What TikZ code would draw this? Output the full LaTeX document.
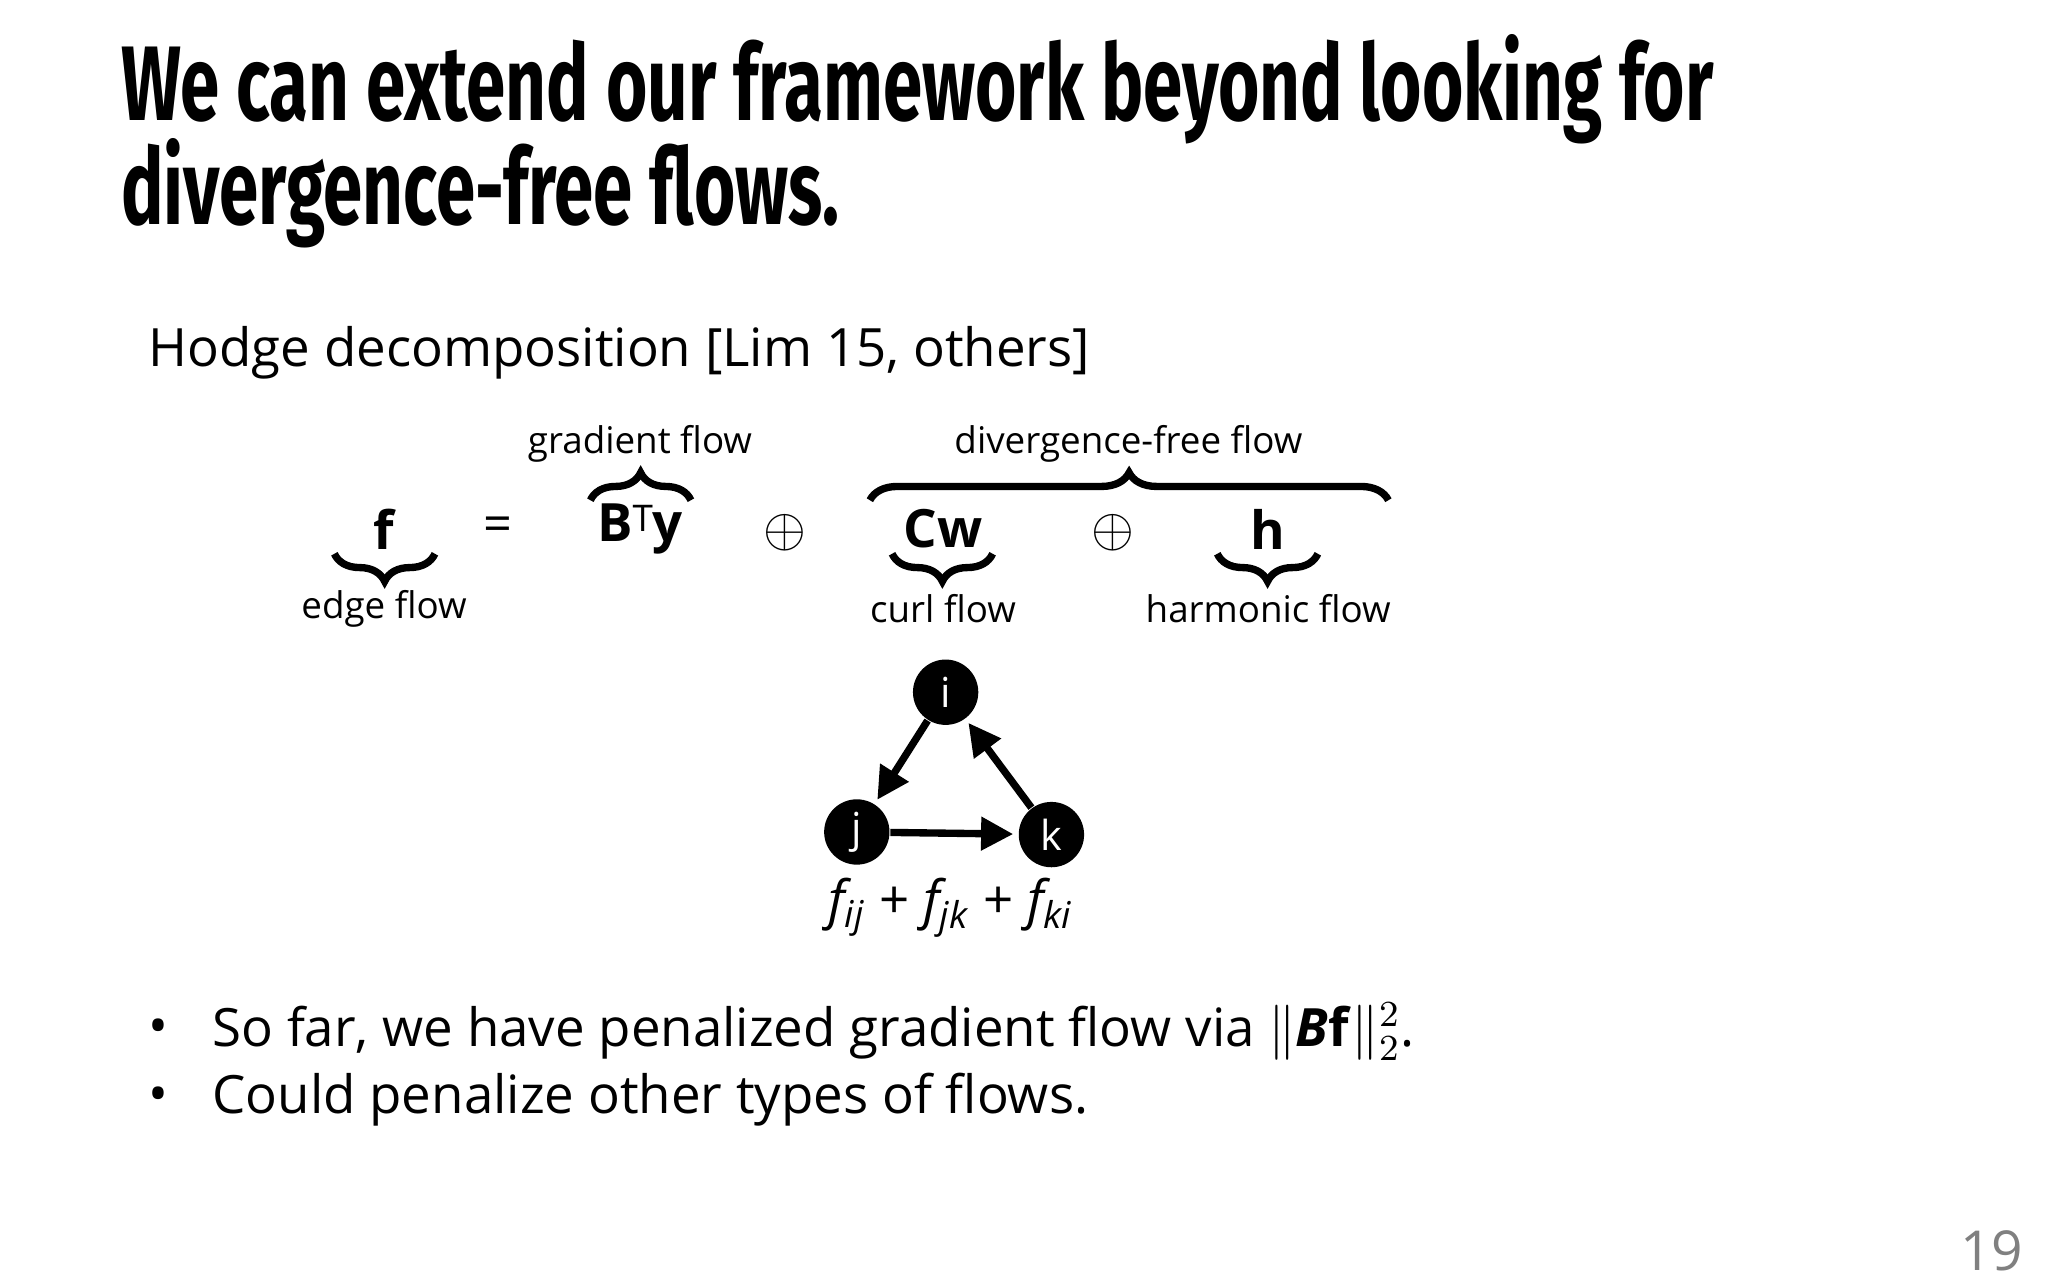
\documentclass[tikz,border=0pt]{standalone}
\usepackage{fontspec}
\setmainfont{Open Sans}
\newfontfamily\titlefont{Fira Sans}
\usetikzlibrary{decorations.pathreplacing,arrows.meta}
\begin{document}
\begin{tikzpicture}[x=0.01cm,y=-0.01cm,
  lbl/.style={font=\fontsize{8}{10}\selectfont,inner sep=0},
  eq/.style={font=\fontsize{11.5}{13}\selectfont\bfseries,inner sep=0},
  br/.style={decorate,decoration={brace,amplitude=6pt},line width=1.6pt},
  vert/.style={circle,fill=black,minimum size=0.5cm,inner sep=0,text=white,font=\fontsize{9}{10}\selectfont},
  arr/.style={-{Triangle[length=7pt,width=7pt]},line width=1.6pt,shorten >=1pt},
  body/.style={anchor=west,inner sep=0,font=\fontsize{11.5}{14}\selectfont}]
\useasboundingbox (0,0) rectangle (1568,980);
\node[anchor=west,inner sep=0,font=\titlefont\bfseries\fontsize{21}{25}\selectfont] (t1) at (92,68) {\scalebox{0.735}[1.1]{We can extend our framework beyond looking for}};
\node[anchor=west,inner sep=0,font=\titlefont\bfseries\fontsize{21}{25}\selectfont] (t2) at (92,148) {\scalebox{0.735}[1.1]{divergence-free flows.}};
\node[body] (hd) at (113,270) {Hodge decomposition [Lim 15, others]};
\node[eq] (f) at (294,405) {f};
\node[eq,font=\fontsize{11}{13}\selectfont] (eqs) at (381,405) {=};
\node[eq] (bty) at (490,405) {B\raisebox{0.35ex}{\normalfont\fontsize{8}{9}\selectfont T}y};
\node[inner sep=0,font=\fontsize{12}{13}\selectfont] (o1) at (601,408) {$\oplus$};
\node[eq] (cw) at (722,405) {Cw};
\node[inner sep=0,font=\fontsize{12}{13}\selectfont] (o2) at (852,408) {$\oplus$};
\node[eq] (h) at (971,405) {h};
\draw[br,decoration={mirror}] (256,424) -- (333,424);
\node[lbl] (ef) at (294,466) {edge flow};
\draw[br] (452,383) -- (529,383);
\node[lbl] (gf) at (490,340) {gradient flow};
\draw[br] (666,383) -- (1063,383);
\node[lbl] (df) at (864,340) {divergence-free flow};
\draw[br,decoration={mirror}] (683,424) -- (760,424);
\node[lbl] (cf) at (722,466) {curl flow};
\draw[br,decoration={mirror}] (932,424) -- (1009,424);
\node[lbl] (hf) at (971,466) {harmonic flow};
\node[vert] (i) at (724,530) {i};
\node[vert] (j) at (656,637) {j};
\node[vert] (k) at (805,639) {k};
\draw[arr] (i) -- (j);
\draw[arr] (j) -- (k);
\draw[arr] (k) -- (i);
\node[inner sep=0,font=\fontsize{11.5}{14}\selectfont] (sum) at (728,695) {\itshape f\textsubscript{ij} \upshape+ \itshape f\textsubscript{jk} \upshape+ \itshape f\textsubscript{ki}};
\node[body] (d1) at (113,790) {•};
\node[body] (b1) at (162,790) {So far, we have penalized gradient flow via $\|$\textbf{\textit{B}f}$\|_2^2$.};
\node[body] (d2) at (113,842) {•};
\node[body] (b2) at (162,842) {Could penalize other types of flows.};
\node[inner sep=0,text=gray,font=\fontsize{12}{14}\selectfont] (pg) at (1525,958) {19};
\end{tikzpicture}
\end{document}
